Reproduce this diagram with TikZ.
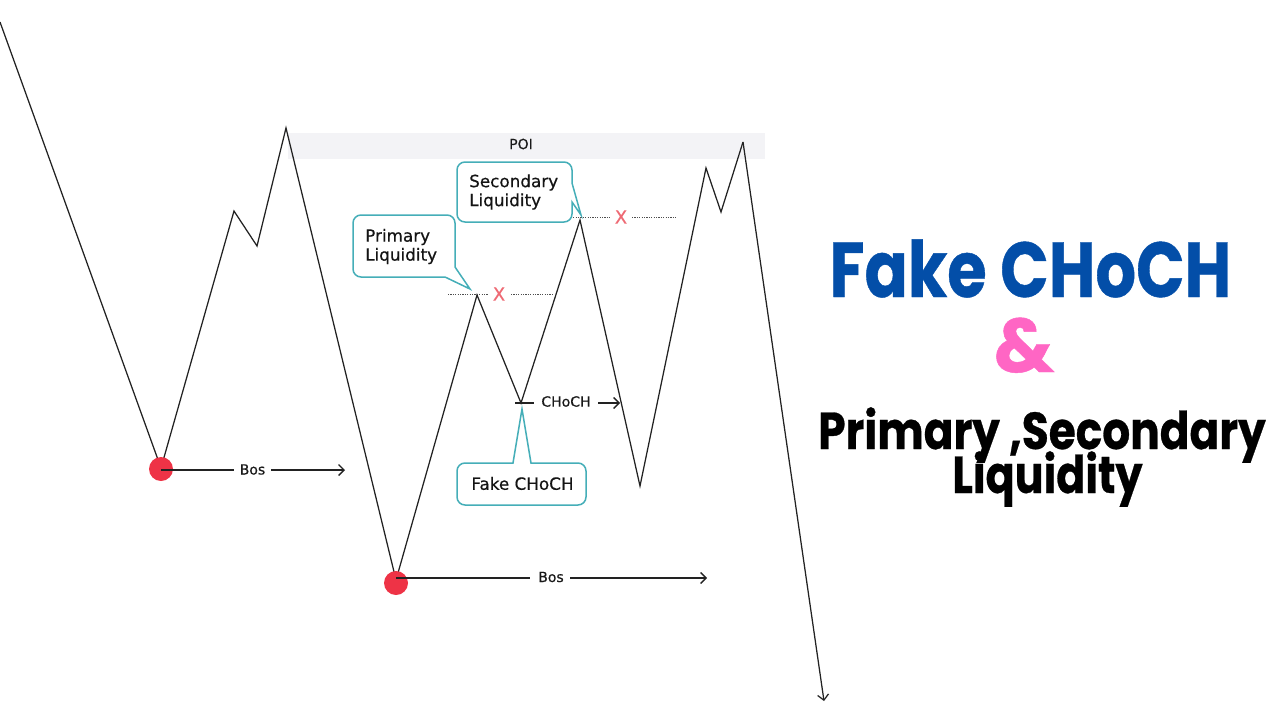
\documentclass[tikz,border=0pt]{standalone}
\usepackage{fontspec}
\setmainfont{DejaVu Sans}[FakeBold=0.5]
\newfontfamily\titlefont{Poppins}[UprightFont=* Bold,FakeBold=0.6]
\usetikzlibrary{arrows.meta}
\definecolor{tealline}{HTML}{45AEB8}
\definecolor{dotred}{HTML}{EE3346}
\definecolor{xred}{HTML}{EE6A74}
\definecolor{poiband}{HTML}{F3F3F6}
\definecolor{titleblue}{HTML}{034EA8}
\definecolor{titlepink}{HTML}{FF66C4}
\definecolor{inkline}{HTML}{222222}
\tikzset{
  price/.style={draw=inkline,line width=1.25pt,line join=miter},
  conn/.style={draw=inkline,line width=1.25pt},
  arrowconn/.style={conn,-{Straight Barb[length=5.5pt,width=11pt,line width=1.25pt]}},
  dots/.style={draw=inkline!80,line width=1pt,dash pattern=on 1.2pt off 1.2pt},
  callout/.style={draw=tealline,line width=1.5pt,fill=white},
  lab/.style={inner sep=0pt,font=\fontsize{14}{16}\selectfont,text=black!90},
  calltext/.style={inner sep=0pt,font=\fontsize{16.8}{19}\selectfont,text=black!92,align=left},
  redx/.style={inner sep=0pt,font=\fontsize{18}{18}\selectfont,text=xred},
  reddot/.style={circle,fill=dotred,inner sep=0pt,minimum size=24pt},
  bigtitle/.style={inner sep=0pt,anchor=base}
}
\begin{document}
\begin{tikzpicture}[x=1pt,y=-1pt]
\useasboundingbox (0,0) rectangle (1280,720);
% POI band
\fill[poiband] (288,133) rectangle (765,159);
\node[lab] (poi) at (521,144) {POI};
% price path points
\coordinate (p0) at (0,22);
\coordinate (p1) at (161,468);
\coordinate (p2) at (234,211);
\coordinate (p3) at (257,246);
\coordinate (p4) at (286,128);
\coordinate (p5) at (396,580);
\coordinate (p6) at (477,295);
\coordinate (p7) at (521,403);
\coordinate (p8) at (580,220);
\coordinate (p9) at (640,486);
\coordinate (p10) at (706,168);
\coordinate (p11) at (721,212);
\coordinate (p12) at (743,142);
\coordinate (p13) at (824,701);
\draw[price] (p0)--(p1)--(p2)--(p3)--(p4)--(p5)--(p6)--(p7)--(p8)--(p9)--(p10)--(p11)--(p12);
\draw[price,-{Straight Barb[length=5.5pt,width=11pt,line width=1.25pt]}] (p12)--(p13);
% red dots
\node[reddot] (d1) at (161,469) {};
\node[reddot] (d2) at (396,583) {};
% Bos lines
\coordinate (b1s) at (161,470);
\coordinate (b1m) at (234,470);
\coordinate (b1n) at (271,470);
\coordinate (b1e) at (345,470);
\coordinate (b2s) at (396,578);
\coordinate (b2m) at (530,578);
\coordinate (b2n) at (570,578);
\coordinate (b2e) at (707,578);
\node[lab] (bos1) at (252.5,469.5) {Bos};
\node[lab] (bos2) at (551,577) {Bos};
\draw[conn] (b1s)--(b1m);
\draw[arrowconn] (b1n)--(b1e);
\draw[conn] (b2s)--(b2m);
\draw[arrowconn] (b2n)--(b2e);
% CHoCH
\node[lab] (choch) at (566,401.5) {CHoCH};
\coordinate (c1) at (515,403);
\coordinate (c1b) at (534,403);
\coordinate (c2b) at (598,403);
\coordinate (c2) at (620,403);
\draw[conn] (c1)--(c1b);
\draw[arrowconn] (c2b)--(c2);
% dotted levels
\node[redx] (x1) at (499,294) {X};
\node[redx] (x2) at (621,217) {X};
\draw[dots] (448,294)--(488,294);
\draw[dots] (511,294)--(552,294);
\draw[dots] (566,217)--(610,217);
\draw[dots] (632,217)--(677,217);
% callouts
\path[callout] (513,463) [sharp corners] -- (522,409) -- (531,463) [rounded corners=8pt] -- (586,463) -- (586,505) -- (457,505) -- (457,463) [sharp corners] -- cycle;
\node[calltext] (fake) at (522.5,483.5) {Fake CHoCH};
\path[callout] (572,183) [sharp corners] -- (581,215) -- (572,202) [rounded corners=8pt] -- (572,222) -- (457,222) -- (457,162) -- (572,162) [sharp corners] -- cycle;
\node[calltext,anchor=west] (sec) at (469,192) {Secondary\\Liquidity};
\path[callout] (455,267) [sharp corners] -- (470,289) -- (445,277) [rounded corners=8pt] -- (353,277) -- (353,215) -- (455,215) [sharp corners] -- cycle;
\node[calltext,anchor=west] (pri) at (365,246.5) {Primary\\Liquidity};
% titles
\node[bigtitle,text=titleblue,font=\titlefont\fontsize{78}{78}\selectfont] (t1) at (1030.5,297) {\scalebox{0.818}[1]{Fake CHoCH}};
\node[bigtitle,text=titlepink,font=\titlefont\fontsize{76}{76}\selectfont] (t2) at (1024,372) {\&};
\node[bigtitle,text=black,font=\titlefont\fontsize{52}{52}\selectfont] (t3) at (1042,449) {\scalebox{0.843}[1]{Primary ,Secondary}};
\node[bigtitle,text=black,font=\titlefont\fontsize{52}{52}\selectfont] (t4) at (1047.5,493) {\scalebox{0.825}[1]{Liquidity}};
\end{tikzpicture}
\end{document}
